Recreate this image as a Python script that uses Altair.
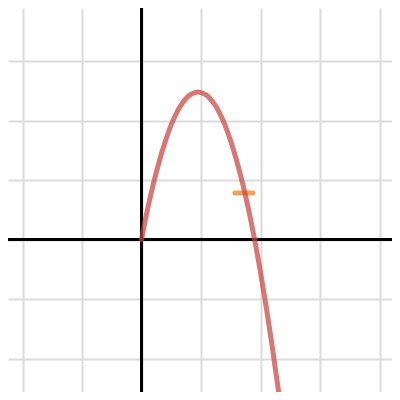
import altair as alt
import pandas as pd

# curve points (grid units)
curve_x = [0.0, 0.1, 0.2, 0.3, 0.4, 0.5, 0.6, 0.7, 0.8, 0.9, 0.95, 1.0, 1.1, 1.2,
           1.3, 1.4, 1.5, 1.6, 1.7, 1.8, 1.9, 2.0, 2.1, 2.2, 2.3, 2.4]
curve_y = [0.0, 0.50, 0.94, 1.32, 1.65, 1.93, 2.15, 2.31, 2.42, 2.47, 2.48, 2.47, 2.42, 2.31,
           2.15, 1.93, 1.65, 1.32, 0.94, 0.50, 0.0, -0.55, -1.16, -1.82, -2.53, -3.30]

# short orange segment
seg_x = [1.57, 1.87]
seg_y = [0.78, 0.78]

grid_vals = [-3, -2, -1, 0, 1, 2, 3, 4, 5]

X_DOMAIN = [-2.244, 4.210]
Y_DOMAIN = [-2.563, 3.891]

curve = pd.DataFrame({"x": curve_x, "y": curve_y, "o": list(range(len(curve_x)))})
seg = pd.DataFrame({"x": seg_x, "y": seg_y})
zero = pd.DataFrame({"v": [0]})

xs = alt.Scale(domain=X_DOMAIN, nice=False, zero=False)
ys = alt.Scale(domain=Y_DOMAIN, nice=False, zero=False)

grid_axis = dict(values=grid_vals, labels=False, ticks=False, domain=False, title=None,
                 grid=True, gridColor="#dcdcdc", gridWidth=2)

base_grid = alt.Chart(zero).mark_point(opacity=0).encode(
    x=alt.X("v:Q", scale=xs, axis=alt.Axis(**grid_axis)),
    y=alt.Y("v:Q", scale=ys, axis=alt.Axis(**grid_axis)),
)

xaxis = alt.Chart(zero).mark_rule(color="black", strokeWidth=3).encode(
    y=alt.Y("v:Q", scale=ys))
yaxis = alt.Chart(zero).mark_rule(color="black", strokeWidth=3).encode(
    x=alt.X("v:Q", scale=xs))

seg_layer = alt.Chart(seg).mark_line(color="#f5a05a", strokeWidth=5, strokeCap="round", clip=True).encode(
    x=alt.X("x:Q", scale=xs), y=alt.Y("y:Q", scale=ys))

curve_layer = alt.Chart(curve).mark_line(color="#c74440", opacity=0.72, strokeWidth=5,
                                         interpolate="monotone", clip=True,
                                         strokeCap="round").encode(
    x=alt.X("x:Q", scale=xs), y=alt.Y("y:Q", scale=ys), order="o:Q")

chart = alt.layer(base_grid, xaxis, yaxis, seg_layer, curve_layer).properties(
    width=384, height=384, padding=0, autosize="none"
).configure_view(stroke=None)

chart.save("out.html", embed_options={"renderer": "svg", "actions": False})
